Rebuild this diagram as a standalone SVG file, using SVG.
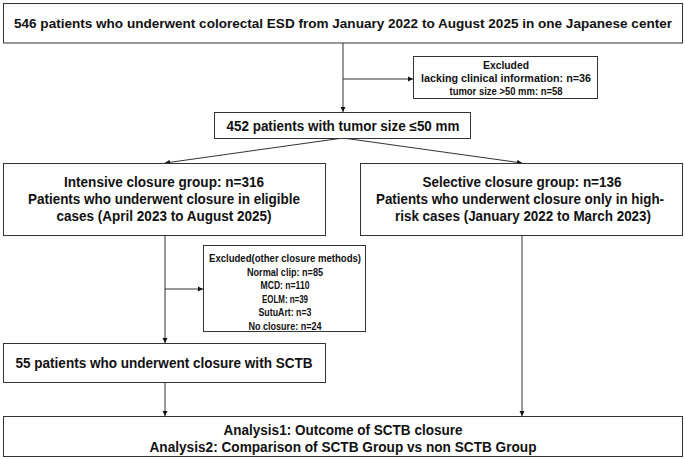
<svg xmlns="http://www.w3.org/2000/svg" width="685" height="459" viewBox="0 0 685 459">
<style>
.box{fill:#fff;stroke:#333;stroke-width:1}
.t{font-family:"Liberation Sans",Arial,sans-serif;font-weight:bold;fill:#111;text-anchor:middle}
.l{font-size:14px}
.x{font-size:13px}
.s{font-size:10.5px}
.c{stroke:#333;stroke-width:1;fill:none}
</style>
<defs>
<marker id="a" markerWidth="6" markerHeight="6" refX="5" refY="3" orient="auto" markerUnits="userSpaceOnUse">
<path d="M0,0.5 L5,3 L0,5.5 Z" fill="#111"/>
</marker>
</defs>
<rect width="685" height="459" fill="#fff"/>
<g id="connectors">
<line class="c" x1="343" y1="43" x2="343" y2="112" marker-end="url(#a)"/>
<line class="c" x1="343" y1="79" x2="413" y2="79" marker-end="url(#a)"/>
<line class="c" x1="343" y1="138" x2="165" y2="163" marker-end="url(#a)"/>
<line class="c" x1="343" y1="138" x2="522" y2="163" marker-end="url(#a)"/>
<line class="c" x1="165" y1="235" x2="165" y2="343" marker-end="url(#a)"/>
<line class="c" x1="165" y1="289" x2="203" y2="289" marker-end="url(#a)"/>
<line class="c" x1="165" y1="382" x2="165" y2="416" marker-end="url(#a)"/>
<line class="c" x1="522" y1="235" x2="522" y2="416" marker-end="url(#a)"/>
</g>
<g id="n1">
<rect class="box" x="3.5" y="3.5" width="679" height="39.5"/>
<text class="t x" x="343" y="28" textLength="658" lengthAdjust="spacingAndGlyphs">546 patients who underwent colorectal ESD from January 2022 to August 2025 in one Japanese center</text>
</g>
<g id="ex1">
<rect class="box" x="413.5" y="56.5" width="184" height="42"/>
<text class="t s" x="506" y="69" textLength="46" lengthAdjust="spacingAndGlyphs">Excluded</text>
<text class="t s" x="506" y="82" textLength="170" lengthAdjust="spacingAndGlyphs">lacking clinical information: n=36</text>
<text class="t s" x="506" y="95" textLength="113" lengthAdjust="spacingAndGlyphs">tumor size &gt;50 mm: n=58</text>
</g>
<g id="n2">
<rect class="box" x="214.5" y="112.5" width="256" height="26"/>
<text class="t l" x="343" y="131" textLength="233" lengthAdjust="spacingAndGlyphs">452 patients with tumor size ≤50 mm</text>
</g>
<g id="left">
<rect class="box" x="3.5" y="163.5" width="322" height="72"/>
<text class="t l" x="164" y="187" textLength="200" lengthAdjust="spacingAndGlyphs">Intensive closure group: n=316</text>
<text class="t l" x="164" y="204" textLength="272" lengthAdjust="spacingAndGlyphs">Patients who underwent closure in eligible</text>
<text class="t l" x="164" y="221" textLength="215" lengthAdjust="spacingAndGlyphs">cases (April 2023 to August 2025)</text>
</g>
<g id="right">
<rect class="box" x="360.5" y="163.5" width="322" height="72"/>
<text class="t l" x="522" y="187" textLength="199" lengthAdjust="spacingAndGlyphs">Selective closure group: n=136</text>
<text class="t l" x="520" y="204" textLength="288" lengthAdjust="spacingAndGlyphs">Patients who underwent closure only in high-</text>
<text class="t l" x="523" y="221" textLength="256" lengthAdjust="spacingAndGlyphs">risk cases (January 2022 to March 2023)</text>
</g>
<g id="ex2">
<rect class="box" x="203.5" y="245.5" width="162" height="86"/>
<text class="t s" x="285" y="262" textLength="152" lengthAdjust="spacingAndGlyphs">Excluded(other closure methods)</text>
<text class="t s" x="285" y="275.5" textLength="76" lengthAdjust="spacingAndGlyphs">Normal clip: n=85</text>
<text class="t s" x="285" y="289" textLength="49" lengthAdjust="spacingAndGlyphs">MCD: n=110</text>
<text class="t s" x="285" y="302.5" textLength="46" lengthAdjust="spacingAndGlyphs">EOLM: n=39</text>
<text class="t s" x="285" y="316" textLength="53" lengthAdjust="spacingAndGlyphs">SutuArt: n=3</text>
<text class="t s" x="285" y="329.5" textLength="73" lengthAdjust="spacingAndGlyphs">No closure: n=24</text>
</g>
<g id="n55">
<rect class="box" x="3.5" y="343.5" width="322" height="39"/>
<text class="t l" x="164" y="368" textLength="297" lengthAdjust="spacingAndGlyphs">55 patients who underwent closure with SCTB</text>
</g>
<g id="bottom">
<rect class="box" x="3.5" y="416.5" width="679" height="40"/>
<text class="t l" x="343" y="435" textLength="239" lengthAdjust="spacingAndGlyphs">Analysis1: Outcome of SCTB closure</text>
<text class="t l" x="343" y="452" textLength="387" lengthAdjust="spacingAndGlyphs">Analysis2: Comparison of SCTB Group vs non SCTB Group</text>
</g>
</svg>
